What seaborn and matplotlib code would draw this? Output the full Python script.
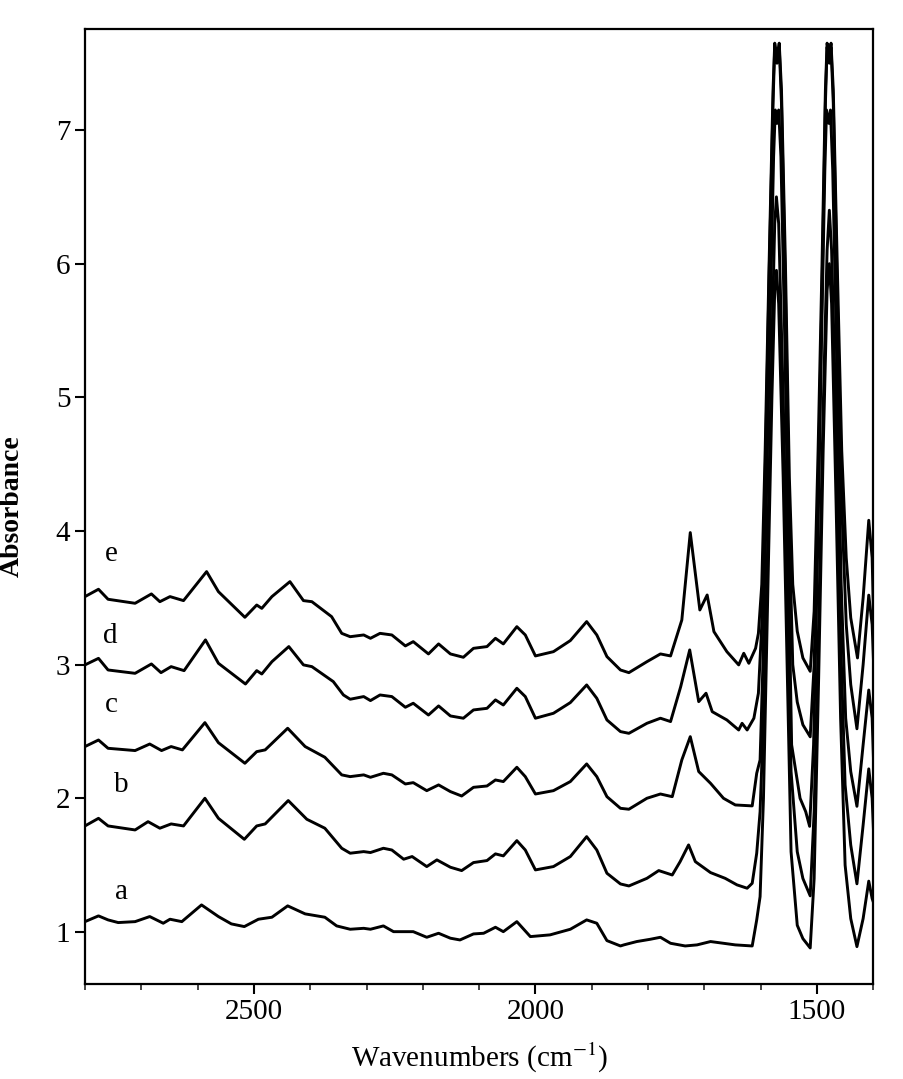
import matplotlib
matplotlib.use("Agg")
import matplotlib.pyplot as plt
import seaborn as sns
import pandas as pd
from matplotlib.ticker import MultipleLocator

# ---------------- data ----------------
wn_e = [2800,2776,2759,2711,2682,2667,2649,2625,2584,2563,2516,2495,2486,2468,2436,2412,2397,2362,2344,
        2329,2305,2293,2276,2255,2231,2217,2190,2172,2151,2128,2110,2086,2071,2057,2033,2018,2000,1968,1938,1909,1891,1873,1849,
        1834,1802,1778,1760,1740,1725,1708,1695,1683,1660,1639,1630,1621,1609,1604,
        1598,1592,1585,1578,1575,1571,1567,1563,1556,1549,1543,1535,1525,1512,
        1505,1498,1491,1485,1482,1478,1475,1471,1464,1456,1448,1440,1428,1418,1408,1402,1398]
ab_e = [3.509,3.564,3.489,3.459,3.529,3.471,3.509,3.479,3.696,3.546,3.354,3.446,3.421,3.509,3.621,3.479,3.471,3.359,3.234,
        3.209,3.222,3.197,3.234,3.222,3.140,3.172,3.080,3.155,3.080,3.055,3.122,3.135,3.197,3.155,3.284,3.222,3.065,3.097,3.180,3.322,3.222,3.060,2.960,
        2.940,3.022,3.080,3.065,3.334,3.988,3.409,3.521,3.247,3.097,2.998,3.085,3.010,3.122,3.234,
        3.6,4.6,6.0,7.3,7.65,7.55,7.65,7.3,6.0,4.4,3.6,3.25,3.05,2.95,
        3.4,4.6,6.0,7.3,7.65,7.55,7.65,7.3,6.0,4.6,3.8,3.35,3.05,3.5,4.08,3.8,3.1]

wn_d = [2800,2776,2759,2711,2682,2665,2647,2624,2586,2563,2515,2495,2486,2468,2438,2412,2397,2359,2341,
        2329,2305,2293,2276,2255,2231,2217,2190,2172,2151,2128,2110,2086,2071,2057,2033,2018,2000,1968,1938,1909,1891,1873,1849,
        1834,1802,1778,1760,1742,1726,1710,1697,1686,1660,1639,1633,1624,1612,1604,
        1598,1592,1585,1578,1575,1571,1567,1563,1556,1549,1543,1535,1525,1512,
        1505,1498,1491,1485,1482,1478,1475,1471,1464,1456,1448,1440,1429,1418,1408,1402,1398]
ab_d = [2.998,3.047,2.960,2.935,3.005,2.940,2.985,2.955,3.185,3.010,2.855,2.955,2.930,3.022,3.135,2.998,2.985,2.873,2.773,
        2.741,2.761,2.731,2.773,2.761,2.681,2.711,2.623,2.691,2.616,2.599,2.661,2.673,2.736,2.698,2.823,2.761,2.599,2.636,2.716,2.848,2.748,2.586,2.499,
        2.486,2.561,2.599,2.574,2.835,3.110,2.723,2.786,2.648,2.586,2.511,2.561,2.511,2.599,2.786,
        3.3,4.4,5.9,7.2,7.62,7.5,7.62,7.2,5.8,4.0,3.0,2.72,2.55,2.46,
        3.0,4.3,5.8,7.2,7.62,7.5,7.62,7.2,5.8,4.2,3.3,2.85,2.52,3.0,3.52,3.3,2.85]

wn_c = [2800,2776,2759,2711,2685,2664,2647,2627,2587,2563,2516,2495,2480,2440,2409,2374,2344,
        2329,2305,2293,2270,2255,2231,2217,2193,2172,2151,2131,2110,2086,2071,2057,2033,2018,2000,1968,1938,1909,1891,1873,1849,
        1834,1802,1778,1757,1740,1725,1710,1689,1666,1645,1615,1607,1601,
        1596,1590,1583,1577,1574,1571,1568,1564,1557,1550,1545,1530,1520,1513,
        1506,1499,1492,1486,1483,1479,1476,1472,1465,1457,1449,1440,1429,1418,1408,1402,1398]
ab_c = [2.387,2.436,2.374,2.357,2.406,2.357,2.387,2.362,2.566,2.416,2.262,2.349,2.362,2.524,2.387,2.307,2.175,
        2.162,2.175,2.157,2.187,2.175,2.107,2.117,2.057,2.100,2.050,2.017,2.082,2.092,2.137,2.125,2.232,2.162,2.032,2.057,2.125,2.257,2.162,2.012,1.925,
        1.918,2.000,2.032,2.012,2.287,2.461,2.200,2.112,2.000,1.950,1.943,2.187,2.287,
        3.0,4.2,5.6,6.8,7.15,7.05,7.15,6.8,5.4,3.6,2.4,2.0,1.9,1.79,
        2.4,3.8,5.4,6.7,7.15,7.05,7.15,6.7,5.3,3.6,2.6,2.2,1.94,2.4,2.81,2.6,2.09]

wn_b = [2800,2776,2759,2711,2688,2667,2647,2625,2587,2563,2517,2495,2480,2439,2406,2374,2344,
        2329,2305,2293,2270,2255,2234,2219,2193,2175,2151,2131,2110,2086,2071,2057,2033,2018,2000,1968,1938,1909,1891,1873,1849,
        1834,1802,1781,1757,1743,1728,1716,1689,1663,1642,1624,1615,1607,
        1601,1595,1588,1580,1575,1572,1568,1560,1552,1546,1535,1525,1512,
        1505,1497,1489,1482,1478,1474,1466,1458,1450,1440,1429,1418,1408,1402,1398]
ab_b = [1.793,1.850,1.793,1.763,1.825,1.776,1.808,1.793,2.000,1.850,1.693,1.793,1.808,1.983,1.843,1.776,1.626,
        1.589,1.601,1.594,1.626,1.613,1.544,1.564,1.489,1.539,1.484,1.459,1.519,1.534,1.584,1.569,1.683,1.613,1.464,1.489,1.564,1.713,1.613,1.439,1.359,
        1.344,1.401,1.459,1.426,1.526,1.651,1.526,1.444,1.401,1.352,1.327,1.364,1.589,
        1.9,2.6,3.8,5.4,6.3,6.5,6.3,5.0,3.4,2.2,1.6,1.4,1.27,
        1.9,3.3,4.9,6.1,6.4,6.1,4.8,3.2,2.1,1.65,1.36,1.8,2.22,2.0,1.6]

wn_a = [2800,2776,2759,2741,2711,2685,2661,2649,2628,2593,2563,2540,2517,2492,2468,2440,2409,2374,2353,
        2329,2305,2293,2270,2252,2217,2193,2172,2151,2134,2110,2092,2071,2057,2033,2009,1974,1938,1909,1891,1873,1849,
        1843,1820,1796,1778,1760,1734,1713,1689,1666,1645,1615,1607,1601,
        1595,1588,1580,1575,1572,1568,1560,1552,1546,1535,1525,1512,
        1505,1497,1489,1482,1478,1474,1466,1458,1450,1440,1429,1418,1408,1402,1398]
ab_a = [1.077,1.120,1.090,1.070,1.077,1.115,1.065,1.095,1.077,1.202,1.115,1.060,1.040,1.095,1.110,1.195,1.135,1.110,1.045,
        1.020,1.027,1.020,1.045,1.002,1.002,0.960,0.990,0.953,0.940,0.985,0.990,1.035,1.002,1.077,0.965,0.978,1.020,1.090,1.065,0.935,0.895,
        0.903,0.928,0.945,0.960,0.915,0.895,0.903,0.928,0.915,0.903,0.895,1.090,1.264,
        2.0,3.4,5.0,5.8,5.95,5.7,4.4,2.8,1.6,1.05,0.95,0.88,
        1.4,2.9,4.6,5.8,6.0,5.7,4.2,2.6,1.5,1.1,0.89,1.1,1.38,1.25,1.2]

labels = ["a", "b", "c", "d", "e"]
label_wn = [2735, 2735, 2754, 2756, 2753]
label_ab = [1.20, 2.00, 2.60, 3.12, 3.73]

# ---------------- plot ----------------
sns.set_theme(style="white")
plt.rcParams['font.family'] = ['Liberation Serif', 'DejaVu Serif']
plt.rcParams['mathtext.fontset'] = 'stix'

fig = plt.figure(figsize=(9.04, 10.79), dpi=100)
ax = fig.add_axes([0.094, 0.088, 0.872, 0.885])

series = {"a": (wn_a, ab_a), "b": (wn_b, ab_b), "c": (wn_c, ab_c), "d": (wn_d, ab_d), "e": (wn_e, ab_e)}
for name, (w, a) in series.items():
    df = pd.DataFrame({"wn": w, "A": a})
    sns.lineplot(data=df, x="wn", y="A", sort=False, estimator=None, color="black", lw=2.1, ax=ax)

for t, x, y in zip(labels, label_wn, label_ab):
    ax.text(x, y, t, fontsize=21, ha="center", va="bottom", color="black")

ax.set_xlim(2800, 1400)
ax.set_ylim(0.61, 7.755)
ax.xaxis.set_major_locator(MultipleLocator(500))
ax.xaxis.set_minor_locator(MultipleLocator(100))
ax.yaxis.set_major_locator(MultipleLocator(1))
ax.tick_params(axis="both", which="major", direction="out", length=7, width=1.5, labelsize=21, color="black", labelcolor="black", bottom=True, left=True)
ax.tick_params(axis="x", which="minor", direction="out", length=4, width=1.2, bottom=True)
for s in ax.spines.values():
    s.set_color("black")
    s.set_linewidth(1.6)
ax.set_xlabel("Wavenumbers (cm$^{-1}$)", fontsize=21, color="black", labelpad=12)
ax.set_ylabel("Absorbance", fontsize=20, fontweight="bold", color="black", labelpad=22)

fig.savefig("out.png", dpi=100)
